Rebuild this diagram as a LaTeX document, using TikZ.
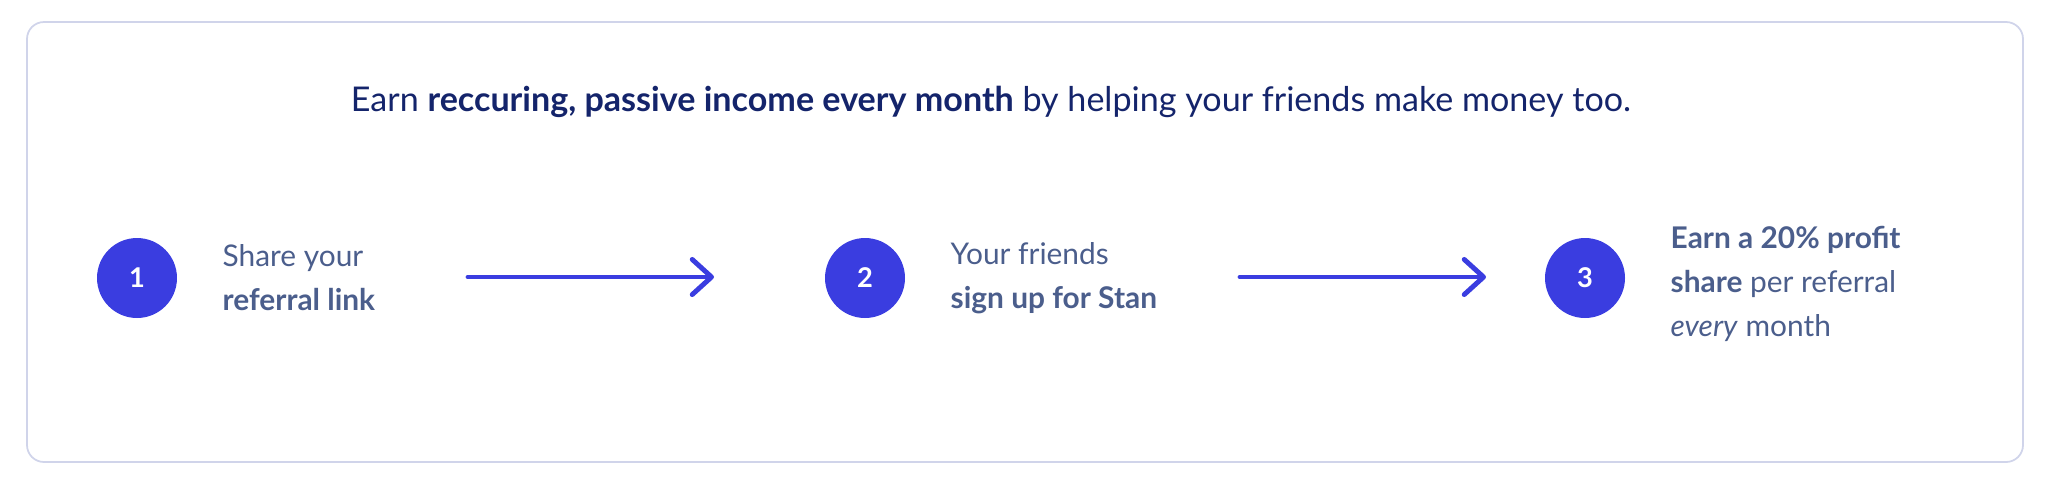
\documentclass[tikz,border=0pt]{standalone}
\usepackage{fontspec}
\setmainfont{Lato}
\usetikzlibrary{positioning,arrows.meta}

\definecolor{stanblue}{HTML}{3A3DE0}
\definecolor{titleink}{HTML}{14246B}
\definecolor{stepink}{HTML}{4B5E8C}
\definecolor{frameline}{HTML}{D0D4EA}

\begin{document}
\begin{tikzpicture}[x=0.02cm, y=-0.02cm,
    every node/.style={inner sep=0pt},
    stepnum/.style={circle, fill=stanblue, text=white, minimum size=1.6cm, font=\fontsize{15.5}{18}\selectfont\bfseries},
    steptext/.style={right=0.9cm of #1, anchor=west, align=left, text=stepink, font=\fontsize{17}{25}\selectfont},
    flow/.style={stanblue, line width=2.8pt, line cap=round, -{Straight Barb[length=11pt, width=20pt, line width=2.8pt, round]}}]
    \useasboundingbox (0,0) rectangle (2048,485);
    \draw [frameline, line width=1pt, rounded corners=0.34cm] (27,22) rectangle (2023,462);
    \node [text=titleink, font=\fontsize{19.4}{22}\selectfont] (title) at (991,102) {Earn \textbf{reccuring, passive income every month} by helping your friends make money too.};
    % steps
    \node [stepnum] (s1) at (137,278) {1};
    \node [stepnum] (s2) at (865,278) {2};
    \node [stepnum] (s3) at (1585,278) {3};
    \node [steptext=s1] (t1) {Share your \\ \textbf{referral link}};
    \node [steptext=s2] (t2) {Your friends \\ \textbf{sign up for Stan}};
    \node [steptext=s3, yshift=-0.12cm] (t3) {\textbf{Earn a 20\% profit} \\ \textbf{share} per referral \\ \emph{every} month};
    % arrows
    \coordinate (a1) at (468,277);
    \coordinate (b1) at (714,277);
    \coordinate (a2) at (1240,277);
    \coordinate (b2) at (1486,277);
    \draw [flow] (a1) -- (b1);
    \draw [flow] (a2) -- (b2);
\end{tikzpicture}
\end{document}
